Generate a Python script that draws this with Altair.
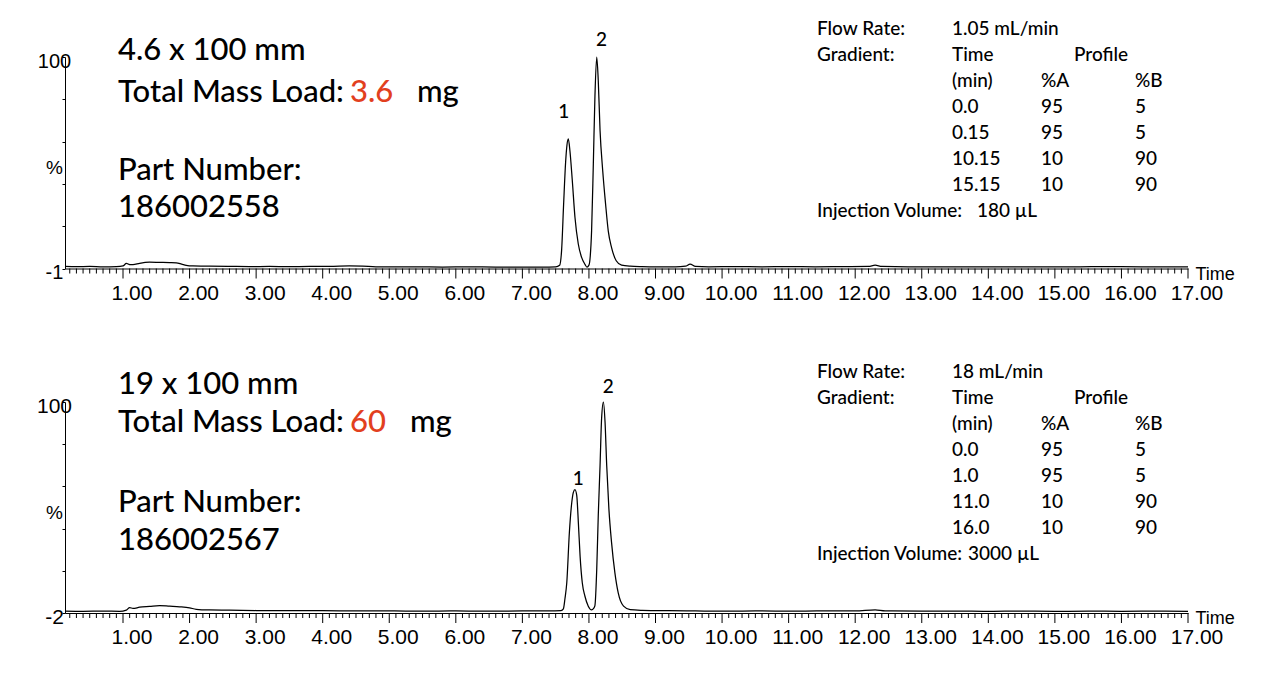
import altair as alt
import pandas as pd

# ---------------- chromatogram traces: retention time (min) and response (%) ----------------
top_time = [0.13, 0.3, 0.5, 0.7, 0.9, 1.0, 1.05, 1.1, 1.15, 1.25, 1.4, 1.55, 1.7, 1.8, 1.88,
            1.95, 2.05, 2.3, 2.6, 2.9, 3.2, 3.5, 3.8, 4.1, 4.4, 4.6, 4.8, 5.0, 5.4, 5.8, 6.2,
            6.6, 7.0, 7.3, 7.5, 7.56, 7.59, 7.62, 7.65, 7.67, 7.69, 7.715, 7.75, 7.79, 7.84,
            7.89, 7.94, 7.97, 8.0, 8.02, 8.04, 8.066, 8.09, 8.117, 8.14, 8.167, 8.207, 8.25,
            8.29, 8.34, 8.41, 8.49, 8.62, 8.8, 9.0, 9.3, 9.45, 9.52, 9.6, 9.8, 10.2, 10.6,
            11.0, 11.4, 11.8, 12.2, 12.3, 12.4, 12.8, 13.3, 13.8, 14.3, 14.8, 15.3, 15.8,
            16.3, 16.7, 17.0]
top_signal = [0.0, -0.1, 0.0, -0.2, -0.1, 0.2, 1.4, 0.9, 0.8, 1.5, 2.0, 1.9, 1.8, 1.7, 1.1,
              0.5, 0.2, 0.1, 0.0, -0.1, 0.0, -0.1, 0.0, 0.0, 0.2, 0.1, -0.2, -0.2, -0.2, -0.3,
              -0.2, -0.3, -0.3, -0.3, -0.2, 0.6, 8.0, 30.0, 50.0, 58.0, 60.9, 55.0, 41.0, 23.5,
              10.7, 4.3, 1.0, -0.3, 0.6, 5.0, 17.0, 49.0, 81.0, 100.0, 88.8, 64.9, 45.7, 29.8,
              17.0, 9.0, 2.7, 0.6, 0.1, -0.1, -0.2, -0.2, 0.1, 1.1, 0.0, -0.2, -0.1, -0.2,
              -0.1, -0.2, -0.1, 0.0, 0.6, 0.0, -0.2, -0.2, -0.2, -0.2, -0.2, -0.2, -0.1,
              -0.2, -0.2, -0.2]

bottom_time = [0.13, 0.4, 0.7, 0.95, 1.05, 1.1, 1.15, 1.25, 1.4, 1.55, 1.7, 1.85, 2.0, 2.1,
               2.3, 2.6, 3.0, 3.5, 4.0, 4.5, 5.0, 5.5, 6.0, 6.5, 7.0, 7.4, 7.58, 7.616, 7.64,
               7.667, 7.706, 7.742, 7.766, 7.79, 7.817, 7.841, 7.867, 7.90, 7.94, 7.99, 8.04,
               8.07, 8.09, 8.117, 8.14, 8.167, 8.19, 8.217, 8.242, 8.267, 8.30, 8.34, 8.39,
               8.44, 8.52, 8.62, 8.8, 9.2, 9.6, 10.0, 10.5, 11.0, 11.5, 12.0, 12.3, 12.45,
               13.0, 13.5, 14.0, 14.5, 15.0, 15.5, 16.0, 16.5, 17.0]
bottom_signal = [-1.1, -1.2, -1.1, -1.2, -0.6, 0.6, 0.2, 0.8, 1.2, 1.6, 1.3, 1.0, 0.5, -0.2,
                 -0.5, -0.6, -0.8, -0.9, -0.9, -1.0, -1.0, -1.1, -1.0, -1.1, -1.0, -1.0, -0.8,
                 0.0, 5.0, 12.6, 36.9, 51.4, 56.3, 57.6, 54.7, 41.7, 25.5, 12.6, 6.1, 1.3,
                 -0.5, 0.2, 1.6, 19.0, 45.0, 69.3, 91.9, 100.0, 90.3, 69.3, 48.2, 32.0, 17.4,
                 7.7, 1.3, -0.4, -0.7, -0.9, -1.0, -1.1, -1.0, -1.1, -1.0, -1.0, -0.5, -1.0,
                 -1.1, -1.1, -1.2, -1.1, -1.2, -1.1, -1.2, -1.1, -1.2]

# peak numbering, placed at (time, response)
peak_ids = ["1", "2"]
top_peak_time = [7.62, 8.19]
top_peak_level = [73.6, 107.9]
bottom_peak_time = [7.84, 8.29]
bottom_peak_level = [62.7, 107.3]

# axis tick labels
x_major = list(range(1, 18))
x_major_labels = [f"{v}.00" for v in x_major]
top_y_labels = ["-1", "100"]
bottom_y_labels = ["-2", "100"]

# column / sample description
top_column = "4.6 x 100 mm"
top_load_value = "3.6"
top_part = "186002558"
bottom_column = "19 x 100 mm"
bottom_load_value = "60"
bottom_part = "186002567"
load_label = "Total Mass Load:"
load_unit = "mg"
part_label = "Part Number:"

# method conditions
flow_label = "Flow Rate:"
gradient_label = "Gradient:"
injection_label = "Injection Volume:"
grad_headers = ["Time", "Profile", "(min)", "%A", "%B"]
top_flow = "1.05 mL/min"
top_grad_time = ["0.0", "0.15", "10.15", "15.15"]
top_grad_a = ["95", "95", "10", "10"]
top_grad_b = ["5", "5", "90", "90"]
top_injection = "180 µL"
bottom_flow = "18 mL/min"
bottom_grad_time = ["0.0", "1.0", "11.0", "16.0"]
bottom_grad_a = ["95", "95", "10", "10"]
bottom_grad_b = ["5", "5", "90", "90"]
bottom_injection = "3000 µL"

# ---------------- layout (pixels) ----------------
PLOT_LEFT = 65
PLOT_W = 1123
X_MIN, X_MAX = 0.1286, 17.0
TOP_PLOT_TOP, TOP_H = 56.5, 211.5
BOTTOM_PLOT_TOP, BOTTOM_H = 401.0, 211.0
RED = "#e2401e"
SANS = "Liberation Sans"
DISPLAY = "Lato"
WEIGHT = 500
BIG = 31
SMALL = 19
ROW = 26
COL_LABEL, COL_TIME, COL_A, COL_PROFILE, COL_B = 817, 952, 1041, 1074, 1135

minor_ticks = [round(0.1 * i, 1) for i in range(2, 171) if i % 10 != 0]
one = pd.DataFrame({"k": [0]})


def y_axis(y_min, labels, size):
    step = (100 - y_min) / 10
    values = [y_min + step * k for k in range(11)]
    return alt.Axis(
        values=values,
        labelExpr=f"datum.value > 99 ? '{labels[1]}' : datum.value < {y_min + 1} ? '{labels[0]}' : ''",
        tickSize=3, labelPadding=8, labelAlign="center", labelBaseline="middle",
        labelOffset=4, labelFont=SANS, labelFontSize=size, labelOverlap=False,
        labelFlush=False, labelColor="black", domainColor="black", tickColor="black",
        grid=False, title="%", titleAngle=0, titleX=-11, titleY=110,
        titleAlign="center", titleBaseline="middle", titleFont=SANS,
        titleFontSize=19, titleFontWeight="normal", titleColor="black",
    )


def text_at(text, ax, ay, plot_top, size, font=DISPLAY, color="black"):
    """Single text pinned to page pixel (ax, ay): left edge, alphabetic baseline."""
    return alt.Chart(one).mark_text(
        text=text, font=font, fontSize=size, fontWeight=WEIGHT, color=color,
        align="left", baseline="alphabetic",
    ).encode(x=alt.value(ax - PLOT_LEFT), y=alt.value(ay - plot_top))


def panel(time, signal, y_min, y_labels, y_label_size, tick_font, peak_t, peak_v,
          column, load_value, unit_x, part, big_rows,
          flow, g_time, g_a, g_b, injection, injection_x, table_top, plot_top, height):
    xscale = alt.Scale(domain=[X_MIN, X_MAX], nice=False, zero=False)
    x_axis = alt.Axis(
        ticks=False, labels=False, grid=False, domainColor="black",
        title="Time", titleX=PLOT_W + 7, titleY=5.5, titleAlign="left",
        titleBaseline="middle", titleFont=SANS, titleFontSize=18,
        titleFontWeight="normal", titleColor="black",
    )
    df = pd.DataFrame({"time": time, "signal": signal})
    x = alt.X("time:Q", scale=xscale, axis=x_axis)
    y = alt.Y("signal:Q", scale=alt.Scale(domain=[y_min, 100], nice=False, zero=False),
              axis=y_axis(y_min, y_labels, y_label_size))
    trace = alt.Chart(df).mark_line(color="black", strokeWidth=1.25,
                                    interpolate="monotone").encode(x=x, y=y)

    # time-axis ruler: short ticks every 0.1 min, long ticks and labels every minute
    minor = alt.Chart(pd.DataFrame({"time": minor_ticks})).mark_rule(
        color="black", strokeWidth=1).encode(
        x=alt.X("time:Q"), y=alt.value(height), y2=alt.value(height + 5))
    majors = pd.DataFrame({"time": x_major, "label": x_major_labels})
    major = alt.Chart(majors).mark_rule(color="black", strokeWidth=1).encode(
        x=alt.X("time:Q"), y=alt.value(height), y2=alt.value(height + 10))
    major_text = alt.Chart(majors).mark_text(
        font=SANS, fontSize=tick_font, color="black", baseline="middle", dx=9).encode(
        x=alt.X("time:Q"), y=alt.value(height + 25), text="label:N")

    peaks = alt.Chart(pd.DataFrame({"time": peak_t, "signal": peak_v, "id": peak_ids})
                      ).mark_text(font=DISPLAY, fontSize=19, fontWeight=WEIGHT,
                                  color="black", baseline="middle").encode(
        x="time:Q", y="signal:Q", text="id:N")

    r0, r1, r2, r3 = big_rows
    layers = [
        trace, minor, major, major_text, peaks,
        text_at(column, 118, r0, plot_top, BIG),
        text_at(load_label, 118, r1, plot_top, BIG),
        text_at(load_value, 350, r1, plot_top, BIG, color=RED),
        text_at(load_unit, unit_x, r1, plot_top, BIG),
        text_at(part_label, 118, r2, plot_top, BIG),
        text_at(part, 118, r3, plot_top, BIG),
        # method table
        text_at(flow_label, COL_LABEL, table_top, plot_top, SMALL),
        text_at(flow, COL_TIME, table_top, plot_top, SMALL),
        text_at(gradient_label, COL_LABEL, table_top + ROW, plot_top, SMALL),
        text_at(grad_headers[0], COL_TIME, table_top + ROW, plot_top, SMALL),
        text_at(grad_headers[1], COL_PROFILE, table_top + ROW, plot_top, SMALL),
        text_at(grad_headers[2], COL_TIME, table_top + 2 * ROW, plot_top, SMALL),
        text_at(grad_headers[3], COL_A, table_top + 2 * ROW, plot_top, SMALL),
        text_at(grad_headers[4], COL_B, table_top + 2 * ROW, plot_top, SMALL),
        text_at(injection_label, COL_LABEL, table_top + 7 * ROW, plot_top, SMALL),
        text_at(injection, injection_x, table_top + 7 * ROW, plot_top, SMALL),
    ]
    for i, (t, a, b) in enumerate(zip(g_time, g_a, g_b)):
        row_y = table_top + (3 + i) * ROW
        layers += [text_at(t, COL_TIME, row_y, plot_top, SMALL),
                   text_at(a, COL_A, row_y, plot_top, SMALL),
                   text_at(b, COL_B, row_y, plot_top, SMALL)]
    return alt.layer(*layers).properties(width=PLOT_W, height=height)


top = panel(top_time, top_signal, -1, top_y_labels, 20, 21, top_peak_time, top_peak_level,
            top_column, top_load_value, 417, top_part, (59, 101, 179, 216),
            top_flow, top_grad_time, top_grad_a, top_grad_b, top_injection, 977,
            34.5, TOP_PLOT_TOP, TOP_H)

# invisible rule pinning the page origin so the plot areas land at fixed offsets
origin = alt.Chart(one).mark_rule(opacity=0, strokeWidth=0).encode(
    x=alt.value(-PLOT_LEFT), x2=alt.value(-PLOT_LEFT + 1),
    y=alt.value(-TOP_PLOT_TOP), y2=alt.value(-TOP_PLOT_TOP + 1))
top = alt.layer(top, origin)

bottom = panel(bottom_time, bottom_signal, -2, bottom_y_labels, 21, 21, bottom_peak_time,
               bottom_peak_level, bottom_column, bottom_load_value, 410, bottom_part,
               (393, 431, 511, 549), bottom_flow, bottom_grad_time, bottom_grad_a,
               bottom_grad_b, bottom_injection, 968, 376.5, BOTTOM_PLOT_TOP, BOTTOM_H)

chart = alt.vconcat(
    top, bottom, spacing=BOTTOM_PLOT_TOP - TOP_PLOT_TOP - TOP_H, bounds="flush"
).properties(padding=0, background="white").configure_view(stroke=None)

chart.save("out.html", embed_options={"renderer": "svg", "actions": False})
